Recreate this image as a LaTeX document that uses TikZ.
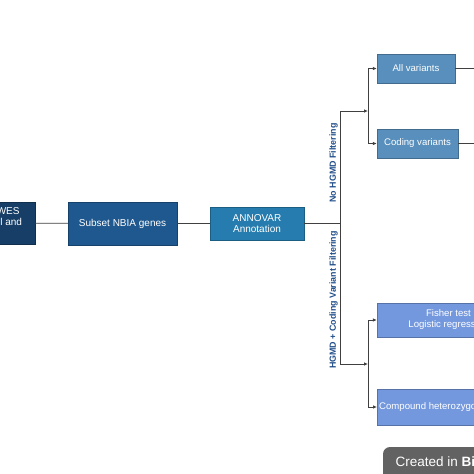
\documentclass[tikz,border=0pt]{standalone}
\usepackage{fontspec}
\setmainfont{Liberation Sans}
\usetikzlibrary{arrows.meta}

\definecolor{inputfill}{RGB}{22,62,102}
\definecolor{subsetfill}{RGB}{30,88,142}
\definecolor{annofill}{RGB}{38,124,174}
\definecolor{varfill}{RGB}{88,143,188}
\definecolor{testfill}{RGB}{116,152,222}
\definecolor{linegray}{RGB}{64,64,64}
\definecolor{labelblue}{RGB}{33,78,138}
\definecolor{badgegray}{RGB}{98,98,98}

\begin{document}
\begin{tikzpicture}[x=1pt,y=-1pt,
    box/.style={draw=#1!75!black, fill=#1, text=white, align=center, inner sep=2pt,
      font=\fontsize{10}{11.3}\selectfont},
    smallbox/.style={box=#1, font=\fontsize{9.6}{11}\selectfont},
    link/.style={draw=linegray, line width=0.8pt},
    tip/.style={link, -{Latex[length=4pt,width=3.6pt]}},
    side/.style={rotate=90, text=labelblue, font=\bfseries\fontsize{8.9}{10}\selectfont}]
  \useasboundingbox (0,0) rectangle (474,474);
  \clip (0,0) rectangle (474,474);
  \fill[white] (0,0) rectangle (474,474);

  % pipeline
  \node[box=inputfill, minimum width=107, minimum height=42] (input) at (-18.5,223)
    {Joint-called WES\\quality control and\\filtering};
  \node[box=subsetfill, minimum width=109, minimum height=43] (subset) at (122.5,223.5)
    {Subset NBIA genes};
  \node[box=annofill, minimum width=94, minimum height=33] (annovar) at (257,223.5)
    {ANNOVAR\\Annotation};

  % branches
  \node[smallbox=varfill, minimum width=78, minimum height=29] (allvar) at (416,68.5)
    {All variants};
  \node[smallbox=varfill, minimum width=81, minimum height=29] (codvar) at (417.5,143.5)
    {Coding variants};
  \node[smallbox=testfill, minimum width=143, minimum height=34] (fisher) at (448.5,320)
    {Fisher test\\Logistic regression};
  \node[smallbox=testfill, minimum height=36, anchor=west] (compound) at (377,407)
    {Compound heterozygosity};

  \node[side] (nolabel) at (333.5,163) {No HGMD Filtering};
  \node[side] (hgmdlabel) at (333.5,300) {HGMD + Coding Variant Filtering};

  \coordinate (split) at (340,228);
  \coordinate (uptop) at (340,111);
  \coordinate (downbot) at (340,364);
  \coordinate (upfork) at (368,111);
  \coordinate (lowfork) at (368,364);
  \coordinate (rightedge) at (480,0);

  \draw[link] (input) -- (subset);
  \draw[link] (subset) -- (annovar);
  \draw[link] (annovar.east) -- (annovar.east -| split);
  \draw[link] (uptop) -- (downbot);

  \draw[tip] (uptop) -- (upfork);
  \draw[link] (allvar.west -| upfork) -- (codvar.west -| upfork);
  \draw[tip] (allvar.west -| upfork) -- (allvar);
  \draw[tip] (codvar.west -| upfork) -- (codvar);

  \draw[tip] (downbot) -- (lowfork);
  \draw[link] (fisher.west -| lowfork) -- (compound.west -| lowfork);
  \draw[tip] (fisher.west -| lowfork) -- (fisher);
  \draw[tip] (compound.west -| lowfork) -- (compound);

  \draw[link] (allvar.east) -- (allvar.east -| rightedge);
  \draw[link] (codvar.east) -- (codvar.east -| rightedge);

  % badge
  \fill[badgegray, rounded corners=7pt] (383,447) rectangle (520,500);
  \node[text=white, anchor=west, font=\fontsize{13.5}{15}\selectfont] (badge) at (392,462)
    {Created in \textbf{BioRender}};
\end{tikzpicture}
\end{document}
